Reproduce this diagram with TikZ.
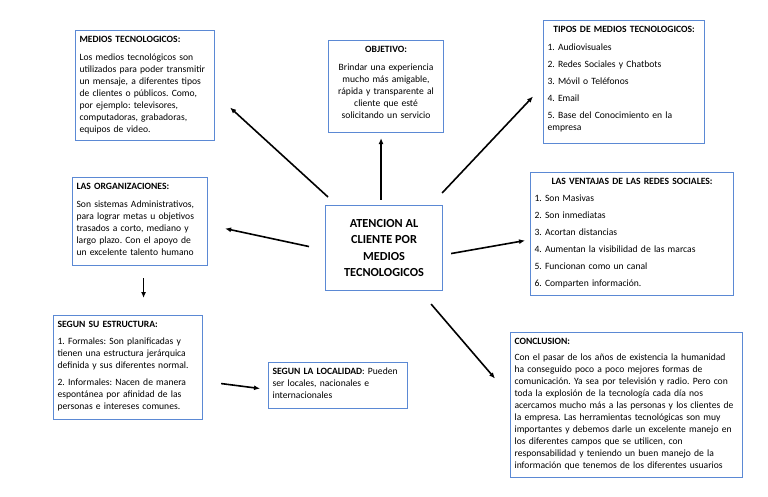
\documentclass[tikz,border=0pt]{standalone}
\usepackage{fontspec}
\setmainfont{Carlito}
\frenchspacing
\usetikzlibrary{arrows.meta,calc}
\definecolor{azulcaja}{RGB}{91,137,212}
\tikzset{
  caja/.style={
    draw=azulcaja, line width=1.1pt, anchor=north west,
    align=left, text height=8pt, inner xsep=4pt, inner ysep=4pt,
    font=\fontsize{9.6}{12}\selectfont},
  central/.style={
    draw=azulcaja, line width=1.1pt, anchor=north west,
    align=center, minimum width=117pt, minimum height=85pt, inner sep=0pt,
    font=\fontsize{12.3}{16.3}\selectfont\bfseries},
  flecha/.style={-{Latex[length=6pt,width=5pt]}, line width=1.6pt}
}
\begin{document}
\begin{tikzpicture}[x=1pt, y=-1pt]
\useasboundingbox (0,0) rectangle (768,497);

% concepto central
\node[central] (centro) at (325,205) {ATENCION AL\\CLIENTE POR\\MEDIOS\\TECNOLOGICOS};

\node[caja, text width=131pt, text depth=94pt] (medios) at (75,30) {
  \textbf{MEDIOS TECNOLOGICOS:}\\[6pt]
  Los medios tecnológicos son\\
  utilizados para poder transmitir\\
  un mensaje, a diferentes tipos\\
  de clientes o públicos. Como,\\
  por ejemplo: televisores,\\
  computadoras, grabadoras,\\
  equipos de video.
};

\node[caja, align=center, text width=107pt, text depth=76pt] (objetivo) at (328,40) {
  \textbf{OBJETIVO:}\\[6pt]
  Brindar una experiencia\\
  mucho más amigable,\\
  rápida y transparente al\\
  cliente que esté\\
  solicitando un servicio
};

\node[caja, text width=153pt, text depth=107pt] (tipos) at (543,20) {
  \makebox[\linewidth]{\textbf{TIPOS DE MEDIOS TECNOLOGICOS:}}\\[5.5pt]
  1. Audiovisuales\\[5pt]
  2. Redes Sociales y Chatbots\\[5pt]
  3. Móvil o Teléfonos\\[5pt]
  4. Email\\[5pt]
  5. Base del Conocimiento en la\\
  empresa
};

\node[caja, text width=127pt, text depth=72pt] (organiz) at (72,177) {
  \textbf{LAS ORGANIZACIONES:}\\[6pt]
  Son sistemas Administrativos,\\
  para lograr metas u objetivos\\
  trasados a corto, mediano y\\
  largo plazo. Con el apoyo de\\
  un excelente talento humano
};

\node[caja, text width=195pt, text depth=107pt] (ventajas) at (530,172) {
  \makebox[\linewidth]{\textbf{LAS VENTAJAS DE LAS REDES SOCIALES:}}\\[5pt]
  1. Son Masivas\\[5pt]
  2. Son inmediatas\\[5pt]
  3. Acortan distancias\\[5pt]
  4. Aumentan la visibilidad de las marcas\\[5pt]
  5. Funcionan como un canal\\[5pt]
  6. Comparten información.
};

\node[caja, text width=141pt, text depth=88pt] (estructura) at (53,315) {
  \textbf{SEGUN SU ESTRUCTURA:}\\[5pt]
  1. Formales: Son planificadas y\\
  tienen una estructura jerárquica\\
  definida y sus diferentes normal.\\[5pt]
  2. Informales: Nacen de manera\\
  espontánea por afinidad de las\\
  personas e intereses comunes.
};

\node[caja, text width=131pt, text depth=30pt] (localidad) at (268,362) {
  \textbf{SEGUN LA LOCALIDAD}: Pueden\\
  ser locales, nacionales e\\
  internacionales
};

\node[caja, text width=224pt, text depth=129pt] (conclusion) at (510,332) {
  \textbf{CONCLUSION:}\\[4pt]
  Con el pasar de los años de existencia la humanidad\\
  ha conseguido poco a poco mejores formas de\\
  comunicación. Ya sea por televisión y radio. Pero con\\
  toda la explosión de la tecnología cada día nos\\
  acercamos mucho más a las personas y los clientes de\\
  la empresa. Las herramientas tecnológicas son muy\\
  importantes y debemos darle un excelente manejo en\\
  los diferentes campos que se utilicen, con\\
  responsabilidad y teniendo un buen manejo de la\\
  información que tenemos de los diferentes usuarios
};

% flechas desde el centro
\draw[flecha] ($(centro.north)+(-3,-5)$) -- ($(objetivo.south)+(-5,5)$);
\draw[flecha] ($(centro.north west)+(3,-8)$) -- ($(medios.east)+(15,22)$);
\draw[flecha] ($(centro.north east)+(-1,-12)$) -- ($(tipos.west)+(-10,14.5)$);
\draw[flecha] ($(centro.west)+(-16,-1.5)$) -- ($(organiz.east)+(17,7)$);
\draw[flecha] ($(centro.east)+(8,5.5)$) -- ($(ventajas.west)+(-5,6.5)$);
\draw[flecha] ($(centro.south east)+(-12,13)$) -- ($(conclusion.west)+(-15,-26.5)$);

% organizaciones -> estructura -> localidad
\draw[flecha] ($(organiz.south)+(3.5,12)$) -- ($(estructura.north)+(15.5,-17)$);
\draw[flecha] ($(estructura.east)+(18,16)$) -- ($(localidad.west)+(-8,3)$);

\end{tikzpicture}
\end{document}
